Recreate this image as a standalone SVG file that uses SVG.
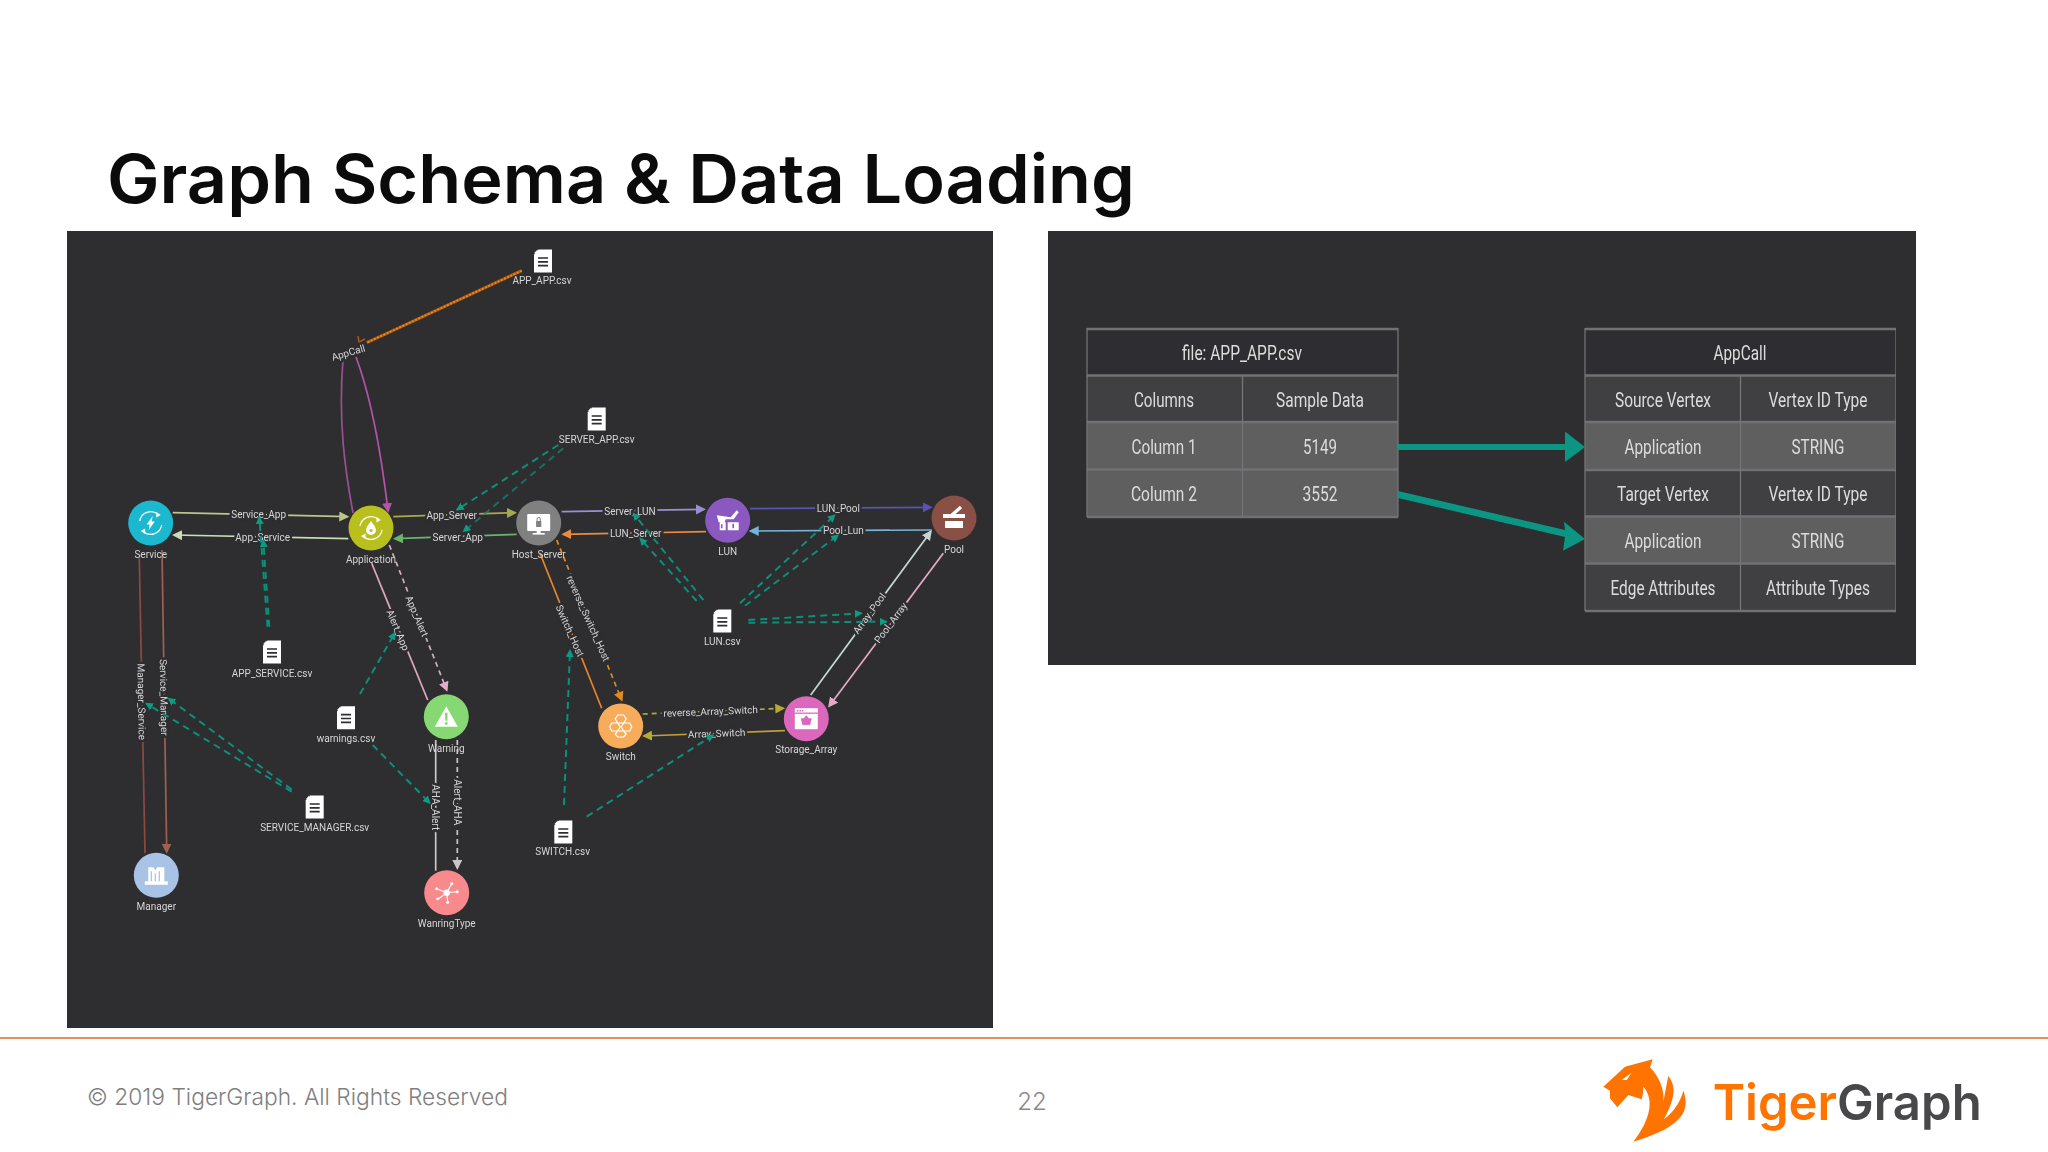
<svg xmlns="http://www.w3.org/2000/svg" width="2048" height="1152" viewBox="0 0 2048 1152">
<style>
.lb{font-family:Roboto,"Liberation Sans",sans-serif;font-size:10px;fill:#d6d6d6;text-anchor:middle}
.el{paint-order:stroke;stroke:#2e2e30;stroke-width:5px;stroke-linejoin:round}
.e{fill:none;stroke-width:1.7}
.d{stroke-dasharray:5 4}
.t{fill:none;stroke:#0b8f78;stroke-width:2;stroke-dasharray:7 5;marker-end:url(#mt)}
.tb{font-family:Roboto,"Liberation Sans",sans-serif;font-size:21px;fill:#dcdcdc;text-anchor:middle}
.w{fill:#fff}
.ws{fill:none;stroke:#fff;stroke-width:1.6}
.cd{fill:#2f2f31}.cm{fill:#414143}.cl{fill:#5f5f61}
.bd{stroke:#717173;stroke-width:2.5;fill:none}
.bv{stroke:#77777a;stroke-width:1.2;fill:none}
</style>
<defs>
<filter id="soft" x="0" y="0" width="100%" height="100%"><feGaussianBlur stdDeviation="0.6"/></filter>
<marker id="mt" markerUnits="userSpaceOnUse" markerWidth="10" markerHeight="10" refX="7" refY="4" orient="auto"><path d="M0,0L8,4L0,8Z" fill="#0b9c82"/></marker>
<marker id="m1" markerUnits="userSpaceOnUse" markerWidth="12" markerHeight="12" refX="8" refY="5" orient="auto"><path d="M0,0L10,5L0,10Z" fill="#b553a8"/></marker>
<marker id="m2" markerUnits="userSpaceOnUse" markerWidth="12" markerHeight="12" refX="8" refY="5" orient="auto"><path d="M0,0L10,5L0,10Z" fill="#bcc68a"/></marker>
<marker id="m3" markerUnits="userSpaceOnUse" markerWidth="12" markerHeight="12" refX="8" refY="5" orient="auto"><path d="M0,0L10,5L0,10Z" fill="#c9deb4"/></marker>
<marker id="m4" markerUnits="userSpaceOnUse" markerWidth="12" markerHeight="12" refX="8" refY="5" orient="auto"><path d="M0,0L10,5L0,10Z" fill="#a5aa50"/></marker>
<marker id="m5" markerUnits="userSpaceOnUse" markerWidth="12" markerHeight="12" refX="8" refY="5" orient="auto"><path d="M0,0L10,5L0,10Z" fill="#6bb56e"/></marker>
<marker id="m6" markerUnits="userSpaceOnUse" markerWidth="12" markerHeight="12" refX="8" refY="5" orient="auto"><path d="M0,0L10,5L0,10Z" fill="#9a8fd4"/></marker>
<marker id="m7" markerUnits="userSpaceOnUse" markerWidth="12" markerHeight="12" refX="8" refY="5" orient="auto"><path d="M0,0L10,5L0,10Z" fill="#ec8a3c"/></marker>
<marker id="m8" markerUnits="userSpaceOnUse" markerWidth="12" markerHeight="12" refX="8" refY="5" orient="auto"><path d="M0,0L10,5L0,10Z" fill="#5b52b0"/></marker>
<marker id="m9" markerUnits="userSpaceOnUse" markerWidth="12" markerHeight="12" refX="8" refY="5" orient="auto"><path d="M0,0L10,5L0,10Z" fill="#74b6d8"/></marker>
<marker id="m10" markerUnits="userSpaceOnUse" markerWidth="12" markerHeight="12" refX="8" refY="5" orient="auto"><path d="M0,0L10,5L0,10Z" fill="#c6d6d6"/></marker>
<marker id="m11" markerUnits="userSpaceOnUse" markerWidth="12" markerHeight="12" refX="8" refY="5" orient="auto"><path d="M0,0L10,5L0,10Z" fill="#e6aac8"/></marker>
<marker id="m12" markerUnits="userSpaceOnUse" markerWidth="12" markerHeight="12" refX="8" refY="5" orient="auto"><path d="M0,0L10,5L0,10Z" fill="#b7aa30"/></marker>
<marker id="m13" markerUnits="userSpaceOnUse" markerWidth="12" markerHeight="12" refX="8" refY="5" orient="auto"><path d="M0,0L10,5L0,10Z" fill="#e08a20"/></marker>
<marker id="m14" markerUnits="userSpaceOnUse" markerWidth="12" markerHeight="12" refX="8" refY="5" orient="auto"><path d="M0,0L10,5L0,10Z" fill="#a0604f"/></marker>
<marker id="m15" markerUnits="userSpaceOnUse" markerWidth="12" markerHeight="12" refX="8" refY="5" orient="auto"><path d="M0,0L10,5L0,10Z" fill="#c8c8c8"/></marker>
<symbol id="doc" overflow="visible"><path class="w" d="M-4.500,-11.500H9V11.500H-9V-6.500Z"/><path class="w" d="M-9,-7.700L-5.500,-11.500V-7.700Z"/><path d="M-5,-3H5M-5,0.800H5M-5,4.600H5" stroke="#2e2e30" stroke-width="1.700"/></symbol>
<symbol id="cyc" overflow="visible"><path fill="none" stroke="#fff" stroke-width="1.300" d="M-11,-2A11.300,11.300 0 0 1 7,-9M11,2A11.300,11.300 0 0 1 -7,9"/><path class="w" d="M5.500,-11L10,-8L5.500,-5.500ZM-5.500,11L-10,8L-5.500,5.500Z"/></symbol>
</defs>

<rect width="2048" height="1152" fill="#fff"/>
<text x="107" y="203" textLength="1028" lengthAdjust="spacingAndGlyphs" font-family="Inter,Lato,sans-serif" font-weight="600" font-size="67" fill="#0b0b0b">Graph Schema &amp; Data Loading</text>

<rect id="graph-panel" x="67" y="231" width="926" height="797" fill="#2e2e30"/>
<rect id="mapping-panel" x="1048" y="231" width="868" height="434" fill="#2e2e30"/>

<g filter="url(#soft)">
<g id="connectors">
<path d="M521.700,270.700L366.700,342.700" fill="none" stroke="#a85a12" stroke-width="3"/>
<path d="M521.700,270.700L366.700,342.700" fill="none" stroke="#f08a1e" stroke-width="1.800" stroke-dasharray="2 1.500"/>
<path d="M358,336L359,342L365,339" fill="none" stroke="#a85a12" stroke-width="1.500"/>
<path class="e" stroke="#9c4f96" d="M343,360C338,420 345,470 353,513"/>
<path class="e" stroke="#b553a8" marker-end="url(#m1)" d="M356,357C372,400 382,460 388,511"/>
<path class="e" stroke="#bcc68a" marker-end="url(#m2)" d="M172.700,512.700L347.300,516.700"/>
<path class="e" stroke="#c9deb4" marker-end="url(#m3)" d="M348.300,538.700L174,535"/>
<path class="e" stroke="#a5aa50" marker-end="url(#m4)" d="M393.300,516.700L515,512.700"/>
<path class="e" stroke="#6bb56e" marker-end="url(#m5)" d="M516.700,534.300L395,538.700"/>
<path class="e" stroke="#9a8fd4" marker-end="url(#m6)" d="M561.700,511.700L704,509.300"/>
<path class="e" stroke="#ec8a3c" marker-end="url(#m7)" d="M706,531.700L563.300,534.300"/>
<path class="e" stroke="#5b52b0" marker-end="url(#m8)" d="M750,508.700L930.700,507.300"/>
<path class="e" stroke="#74b6d8" marker-end="url(#m9)" d="M931.700,530L750.700,531"/>
<path class="e" stroke="#c6d6d6" marker-end="url(#m10)" d="M810.700,695L930.700,531.700"/>
<path class="e" stroke="#e6aac8" marker-end="url(#m11)" d="M943.300,553.300L829.300,706"/>
<path class="e d" stroke="#b7aa30" marker-end="url(#m12)" d="M642.700,714L783.300,708.300"/>
<path class="e" stroke="#c0a030" marker-end="url(#m12)" d="M785,730.700L644,736"/>
<path class="e" stroke="#e8862a" d="M601.700,708.300L540,553.300"/>
<path class="e d" stroke="#e08a20" marker-end="url(#m13)" d="M556.700,540L621.700,700"/>
<path class="e" stroke="#8b4a42" d="M145,853.300L139.300,558.300"/>
<path class="e" stroke="#a0604f" marker-end="url(#m14)" d="M162,550L166.700,851.700"/>
<path class="e" stroke="#e0a8c0" d="M427.700,700L371.700,563.300"/>
<path class="e d" stroke="#d0b0c8" marker-end="url(#m11)" d="M389.300,545L446.700,690"/>
<path class="e" stroke="#c8c8c8" d="M435.700,740V870.700"/>
<path class="e d" stroke="#c8c8c8" marker-end="url(#m15)" d="M457.300,740V868"/>
</g>
<g id="edge-labels">
<text class="lb el" transform="translate(349.300,356) rotate(-16)">AppCall</text>
<text class="lb el" x="258.700" y="518">Service_App</text>
<text class="lb el" x="262.700" y="541">App_Service</text>
<text class="lb el" x="451.700" y="518.500">App_Server</text>
<text class="lb el" x="457.700" y="541">Server_App</text>
<text class="lb el" x="630" y="514.500">Server_LUN</text>
<text class="lb el" x="635.700" y="537">LUN_Server</text>
<text class="lb el" x="838.300" y="512">LUN_Pool</text>
<text class="lb el" x="843.300" y="534">Pool_Lun</text>
<text class="lb el" transform="translate(869.300,613.300) rotate(-53.500) translate(0,3.600)">Array_Pool</text>
<text class="lb el" transform="translate(890.700,622.700) rotate(-53.500) translate(0,3.600)">Pool_Array</text>
<text class="lb el" transform="translate(710.700,711.300) rotate(-2.300) translate(0,3.600)">reverse_Array_Switch</text>
<text class="lb el" transform="translate(716.700,733.300) rotate(-2.300) translate(0,3.600)">Array_Switch</text>
<text class="lb el" transform="translate(570,630.700) rotate(66) translate(0,3.600)">Switch_Host</text>
<text class="lb el" transform="translate(588.300,618.300) rotate(66) translate(0,3.600)">reverse_Switch_Host</text>
<text class="lb el" transform="translate(141.700,701.700) rotate(89) translate(0,3.600)">Manager_Service</text>
<text class="lb el" transform="translate(164,697.300) rotate(89) translate(0,3.600)">Service_Manager</text>
<text class="lb el" transform="translate(398,630) rotate(67) translate(0,3.600)">Alert_App</text>
<text class="lb el" transform="translate(417,616) rotate(67) translate(0,3.600)">App_Alert</text>
<text class="lb el" transform="translate(435.700,807.300) rotate(90) translate(0,3.600)">AHA_Alert</text>
<text class="lb el" transform="translate(457.700,802.300) rotate(90) translate(0,3.600)">Alert_AHA</text>
</g>
<g id="loading-connectors">
<path class="t" d="M269.300,626.700L263.300,540"/>
<path class="t" d="M267.500,626.700L259.300,517"/>
<path class="t" d="M558.300,445L456.700,510"/>
<path class="t" stroke-opacity=".7" d="M563.300,448.300L463.300,531.700"/>
<path class="t" d="M703.300,600L633.300,513.300"/>
<path class="t" d="M696.700,601L640,538.300"/>
<path class="t" d="M740,603.300L835,515"/>
<path class="t" d="M745,605.700L838.300,535"/>
<path class="t" d="M748.300,620L861.700,613.300"/>
<path class="t" d="M748.300,622.700L886.700,621.700"/>
<path class="t" d="M564,805L570,650"/>
<path class="t" d="M586.700,816.700L713.300,735"/>
<path class="t" d="M291.700,791.700L146,703.300"/>
<path class="t" d="M291.700,789.500L168.300,698.300"/>
<path class="t" d="M360,694L395,632.700"/>
<path class="t" d="M372.700,745L430,803.300"/>
</g>

<g id="file-app-app"><use href="#doc" x="543" y="261"/><text class="lb" x="542" y="284">APP_APP.csv</text></g>
<g id="file-server-app"><use href="#doc" x="596.700" y="419"/><text class="lb" x="596.700" y="442.500">SERVER_APP.csv</text></g>
<g id="file-lun"><use href="#doc" x="722.300" y="621"/><text class="lb" x="722.300" y="645">LUN.csv</text></g>
<g id="file-app-service"><use href="#doc" x="272" y="652"/><text class="lb" x="272" y="676.500">APP_SERVICE.csv</text></g>
<g id="file-warnings"><use href="#doc" x="346" y="717.700"/><text class="lb" x="346" y="741.500">warnings.csv</text></g>
<g id="file-service-manager"><use href="#doc" x="314.700" y="807"/><text class="lb" x="314.700" y="830.800">SERVICE_MANAGER.csv</text></g>
<g id="file-switch"><use href="#doc" x="563.300" y="832"/><text class="lb" x="562.700" y="855">SWITCH.csv</text></g>

<g id="node-service" transform="translate(150.700,523)"><circle r="22.500" fill="#1fb8cf"/><use href="#cyc"/><path class="w" d="M2,-7L-4,1.500H-1L-2,7L4,-1.500H1Z"/><text class="lb" y="35">Service</text></g>
<g id="node-application" transform="translate(371,528)"><circle r="22.500" fill="#b9bf1e"/><use href="#cyc"/><path class="w" d="M0,-7C2,-4 5,-1 5,2A5,5 0 0 1 -5,2C-5,-1 -2,-4 0,-7Z"/><circle cy="2.500" r="1.600" fill="#b9bf1e"/><text class="lb" y="35">Application</text></g>
<g id="node-host-server" transform="translate(538.700,523)"><circle r="22.500" fill="#808080"/><rect x="-11.500" y="-9" width="23" height="17" rx="1" class="w"/><rect x="-2" y="8" width="4" height="2.500" class="w"/><rect x="-6" y="10" width="12" height="1.600" class="w"/><rect x="-2.600" y="-2" width="5.200" height="6" fill="#808080"/><path d="M-1.600,-2V-4A1.600,1.600 0 0 1 1.600,-4V-2" fill="none" stroke="#808080" stroke-width="1"/><text class="lb" y="34.500">Host_Server</text></g>
<g id="node-lun" transform="translate(727.700,520.300)"><circle r="22.500" fill="#8a58bf"/><path class="w" d="M-11,-5L3,-3L9,-10L11,-8L6,-1H-2L-3,2H-9ZM-8,2H-2V10H-8ZM0,2H11V10H0Z"/><path d="M-6,4V8M5.500,3.500V8" stroke="#8a58bf" stroke-width="1.600"/><text class="lb" y="35.200">LUN</text></g>
<g id="node-pool" transform="translate(954,518)"><circle r="22.500" fill="#8a5045"/><path d="M-2,-3L7,-11" stroke="#fff" stroke-width="3.200"/><path class="w" d="M-11,-4H11V0H-11ZM-9,3H9V10H-9Z"/><text class="lb" y="35">Pool</text></g>
<g id="node-switch" transform="translate(620.700,726)"><circle r="22.500" fill="#f7ac5c"/><path fill="none" stroke="#fff" stroke-width="1.200" d="M-3,-11H3L5.500,-7L3,-3H-3L-5.500,-7ZM-9,-3H-3L-.5,1L-3,5H-9L-11,1ZM3,-3H9L11,1L9,5H3L.5,1ZM-3,5H3L5.500,8L3,11H-3L-5.500,8Z"/><text class="lb" y="34">Switch</text></g>
<g id="node-storage-array" transform="translate(806.300,718.700)"><circle r="22.500" fill="#dc68bd"/><rect x="-11.500" y="-10.500" width="23" height="21" class="w"/><path d="M-11.500,-5.500H11.500" stroke="#dc68bd" stroke-width="1.300"/><path d="M-9.500,-8H-3" stroke="#dc68bd" stroke-width="1.400" stroke-dasharray="1.600 1"/><path d="M-5,0H5L3.500,6H-3.500ZM-2.500,0L0,-3L2.500,0" fill="#dc68bd" stroke="#dc68bd" stroke-width=".8"/><text class="lb" y="34.300">Storage_Array</text></g>
<g id="node-warning" transform="translate(446.300,716.700)"><circle r="22.500" fill="#86d873"/><path class="w" d="M0,-10.500L11.500,10H-11.500Z"/><rect x="-1.200" y="-4" width="2.400" height="8" fill="#86d873"/><circle cy="6.800" r="1.400" fill="#86d873"/><text class="lb" y="35.300">Warning</text></g>
<g id="node-wanringtype" transform="translate(446.700,892.700)"><circle r="22.500" fill="#f88a8e"/><path d="M0,0L5,-9M0,0L10,-1M0,0L-10,-4M0,0L-8,6M0,0L1,9" stroke="#fff" stroke-width="1.100"/><circle r="3.200" class="w"/><circle cx="5" cy="-9" r="1.500" class="w"/><circle cx="10.500" cy="-1" r="1.500" class="w"/><circle cx="-10" cy="-4" r="1.500" class="w"/><circle cx="-9" cy="6" r="1.500" class="w"/><circle cx="1" cy="9.500" r="1.500" class="w"/><text class="lb" y="34.300">WanringType</text></g>
<g id="node-manager" transform="translate(156.300,875.300)"><circle r="22.500" fill="#a9c3e6"/><path class="w" d="M-8,-8H-3L-1,-5L1,-8H8V7H-8Z"/><rect x="-11.500" y="6" width="23" height="3.500" class="w"/><path d="M-5,-4V6M-1,-2V6M3,-4V6" stroke="#a9c3e6" stroke-width="1.300"/><text class="lb" y="35.200">Manager</text></g>

<g id="table-file">
<rect class="cd" x="1087" y="328" width="311" height="47"/><rect class="cm" x="1087" y="375" width="311" height="47"/><rect class="cl" x="1087" y="422" width="311" height="95"/>
<path class="bd" d="M1087,329H1398M1087,375.500H1398M1087,422H1398M1087,469.500H1398M1087,517H1398"/>
<path class="bv" d="M1087,328V517M1398,328V517M1242.500,375V517"/>
<text class="tb" x="1242" y="360" textLength="120" lengthAdjust="spacingAndGlyphs">file: APP_APP.csv</text>
<text class="tb" x="1164" y="407" textLength="60" lengthAdjust="spacingAndGlyphs">Columns</text>
<text class="tb" x="1320" y="407" textLength="88" lengthAdjust="spacingAndGlyphs">Sample Data</text>
<text class="tb" x="1164" y="454" textLength="65" lengthAdjust="spacingAndGlyphs">Column 1</text>
<text class="tb" x="1320" y="454" textLength="34" lengthAdjust="spacingAndGlyphs">5149</text>
<text class="tb" x="1164" y="501" textLength="66" lengthAdjust="spacingAndGlyphs">Column 2</text>
<text class="tb" x="1320" y="501" textLength="35" lengthAdjust="spacingAndGlyphs">3552</text>
</g>
<g id="table-appcall">
<rect class="cd" x="1585" y="328" width="311" height="47"/><rect class="cm" x="1585" y="375" width="311" height="47"/><rect class="cl" x="1585" y="422" width="311" height="48"/><rect class="cm" x="1585" y="470" width="311" height="46"/><rect class="cl" x="1585" y="516" width="311" height="47"/><rect class="cm" x="1585" y="563" width="311" height="48"/>
<path class="bd" d="M1585,329H1896M1585,375.500H1896M1585,422H1896M1585,470H1896M1585,516.500H1896M1585,563.500H1896M1585,611H1896"/>
<path class="bv" d="M1585,328V611M1896,328V611M1740.500,375V611"/>
<text class="tb" x="1740" y="360" textLength="53" lengthAdjust="spacingAndGlyphs">AppCall</text>
<text class="tb" x="1663" y="407" textLength="96" lengthAdjust="spacingAndGlyphs">Source Vertex</text>
<text class="tb" x="1818" y="407" textLength="99" lengthAdjust="spacingAndGlyphs">Vertex ID Type</text>
<text class="tb" x="1663" y="454" textLength="77" lengthAdjust="spacingAndGlyphs">Application</text>
<text class="tb" x="1818" y="454" textLength="53" lengthAdjust="spacingAndGlyphs">STRING</text>
<text class="tb" x="1663" y="501" textLength="92" lengthAdjust="spacingAndGlyphs">Target Vertex</text>
<text class="tb" x="1818" y="501" textLength="99" lengthAdjust="spacingAndGlyphs">Vertex ID Type</text>
<text class="tb" x="1663" y="548" textLength="77" lengthAdjust="spacingAndGlyphs">Application</text>
<text class="tb" x="1818" y="548" textLength="53" lengthAdjust="spacingAndGlyphs">STRING</text>
<text class="tb" x="1663" y="595" textLength="105" lengthAdjust="spacingAndGlyphs">Edge Attributes</text>
<text class="tb" x="1818" y="595" textLength="104" lengthAdjust="spacingAndGlyphs">Attribute Types</text>
</g>
<g id="mapping-connectors" fill="#0a9583">
<path d="M1398,444H1565V431.500L1585,447L1565,462V450H1398Z"/>
<path d="M1398,491L1565,530L1564,521.700L1585,539L1563,550.700L1565,537L1398,498Z"/>
</g>
</g>

<path d="M0,1038H2048" stroke="#e88d5c" stroke-width="1.800"/>
<text x="87" y="1105" textLength="421" lengthAdjust="spacingAndGlyphs" font-family="Inter,Lato,sans-serif" font-weight="300" font-size="23" fill="#7f7f7f">© 2019 TigerGraph. All Rights Reserved</text>
<text x="1032" y="1110" text-anchor="middle" font-family="Inter,Lato,sans-serif" font-weight="300" font-size="24" fill="#8a8a8a">22</text>
<g id="logo">
<g transform="translate(1560,1030) scale(.3333)">
<path fill="#ff7300" d="M130,170L195,110L278,88L270,112C298,140 314,180 310,215L325,138C350,170 345,205 312,268C335,250 360,222 370,182C392,240 370,290 220,335C270,270 285,210 250,170C250,185 248,198 245,208L205,195L172,232L150,205L150,182Z"/>
<path fill="#fff" d="M185,150L215,128L200,150ZM250,170C262,195 268,220 266,245C258,220 252,195 250,170Z"/>
</g>
<text x="1712.700" y="1120" textLength="269" lengthAdjust="spacingAndGlyphs" font-family="Inter,Lato,sans-serif" font-weight="600" font-size="50"><tspan fill="#ff7300">Tiger</tspan><tspan fill="#48484a">Graph</tspan></text>
</g>
</svg>
